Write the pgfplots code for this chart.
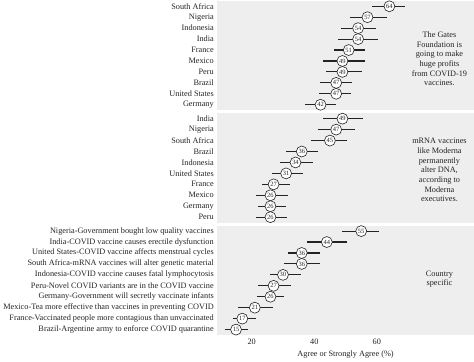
\documentclass[border=0pt]{standalone}
\usepackage{fontspec}
\setmainfont{Liberation Serif}
\usepackage{pgfplots}
\pgfplotsset{compat=1.18}
\usepgfplotslibrary{groupplots}
\usepackage{pgfplotstable}
\definecolor{panel}{RGB}{238,238,238}
\definecolor{ink}{RGB}{35,35,35}

\pgfplotstableread{
r v lo hi
1 64 58.3 68.9
2 57 51.3 63.1
3 54 48.5 59.7
4 54 47.5 60.3
5 51 46.4 56.1
6 49 42.8 56.1
7 49 43.6 55.3
8 47 41.8 52.0
9 47 41.6 51.7
10 42 36.9 46.8
}\gates

\pgfplotstableread{
r v lo hi
1 49 42.7 55.5
2 47 41.1 52.9
3 45 39.1 50.4
4 36 31.0 41.1
5 34 29.1 39.6
6 31 26.4 36.3
7 27 23.4 32.2
8 26 21.3 31.7
9 26 22.0 30.9
10 26 21.3 31.3
}\mrna

\pgfplotstableread{
r v lo hi
1 55 48.8 60.7
2 44 37.7 50.4
3 36 31.7 41.7
4 36 30.3 41.9
5 30 25.9 35.7
6 27 22.1 32.6
7 26 21.7 30.3
8 21 15.7 26.8
9 17 14.1 21.3
10 15 11.5 18.8
}\country

\pgfplotsset{
  panelstyle/.style={
    scale only axis, width=258pt, height=110pt,
    xmin=9, xmax=91, ymin=0.5, ymax=10.5, y dir=reverse,
    axis background/.style={fill=panel},
    axis line style={draw=none},
    major tick length=0pt,
    ytick={1,...,10},
    xtick={20,40,60},
    tick label style={font=\fontsize{8.3}{9}\selectfont, text=ink},
    label style={font=\fontsize{8.3}{9}\selectfont, text=ink},
    /pgf/number format/assume math mode=true,
    clip=false,
  },
  cibars/.style={draw=none, mark=none,
    error bars/.cd, x dir=both, x explicit, error mark=none,
    error bar style={line width=1.1pt, ink}},
  circ/.style={draw=none, mark=none, point meta=x,
    nodes near coords={\pgfmathprintnumber{\pgfplotspointmeta}},
    every node near coord/.append style={anchor=center, circle, draw=ink, fill=white,
      line width=0.6pt, inner sep=0pt, minimum size=11pt,
      font=\fontsize{6.5}{6.5}\selectfont, text=ink}},
}

\newcommand{\ciplot}[1]{%
  \addplot[cibars] table[x=v, y=r,
    x error plus expr=\thisrow{hi}-\thisrow{v},
    x error minus expr=\thisrow{v}-\thisrow{lo}] {#1};
  \addplot[circ] table[x=v, y=r] {#1};
}

\begin{document}
\begin{tikzpicture}
\begin{groupplot}[
  group style={group size=1 by 3, vertical sep=3pt, xticklabels at=edge bottom},
  panelstyle]
\nextgroupplot[yticklabels={South Africa,Nigeria,Indonesia,India,France,Mexico,Peru,Brazil,United States,Germany}]
\ciplot{\gates}
\node[align=center, font=\fontsize{8.3}{9.7}\selectfont, text=ink] at (axis cs:80,5.8)
  {The Gates\\Foundation is\\going to make\\huge profits\\from COVID-19\\vaccines.};

\nextgroupplot[yticklabels={India,Nigeria,South Africa,Brazil,Indonesia,United States,France,Mexico,Germany,Peru}]
\ciplot{\mrna}
\node[align=center, font=\fontsize{8.3}{9.7}\selectfont, text=ink] at (axis cs:80,5.7)
  {mRNA vaccines\\like Moderna\\permanently\\alter DNA,\\according to\\Moderna\\executives.};

\nextgroupplot[xlabel={Agree or Strongly Agree (\%)},
  yticklabels={Nigeria-Government bought low quality vaccines,
    India-COVID vaccine causes erectile dysfunction,
    United States-COVID vaccine affects menstrual cycles,
    South Africa-mRNA vaccines will alter genetic material,
    Indonesia-COVID vaccine causes fatal lymphocytosis,
    Peru-Novel COVID variants are in the COVID vaccine,
    Germany-Government will secretly vaccinate infants,
    Mexico-Tea more effective than vaccines in preventing COVID,
    France-Vaccinated people more contagious than unvaccinated,
    Brazil-Argentine army to enforce COVID quarantine}]
\ciplot{\country}
\node[align=center, font=\fontsize{8.3}{9.7}\selectfont, text=ink] at (axis cs:80,5.4)
  {Country\\specific};
\end{groupplot}
\end{tikzpicture}
\end{document}
